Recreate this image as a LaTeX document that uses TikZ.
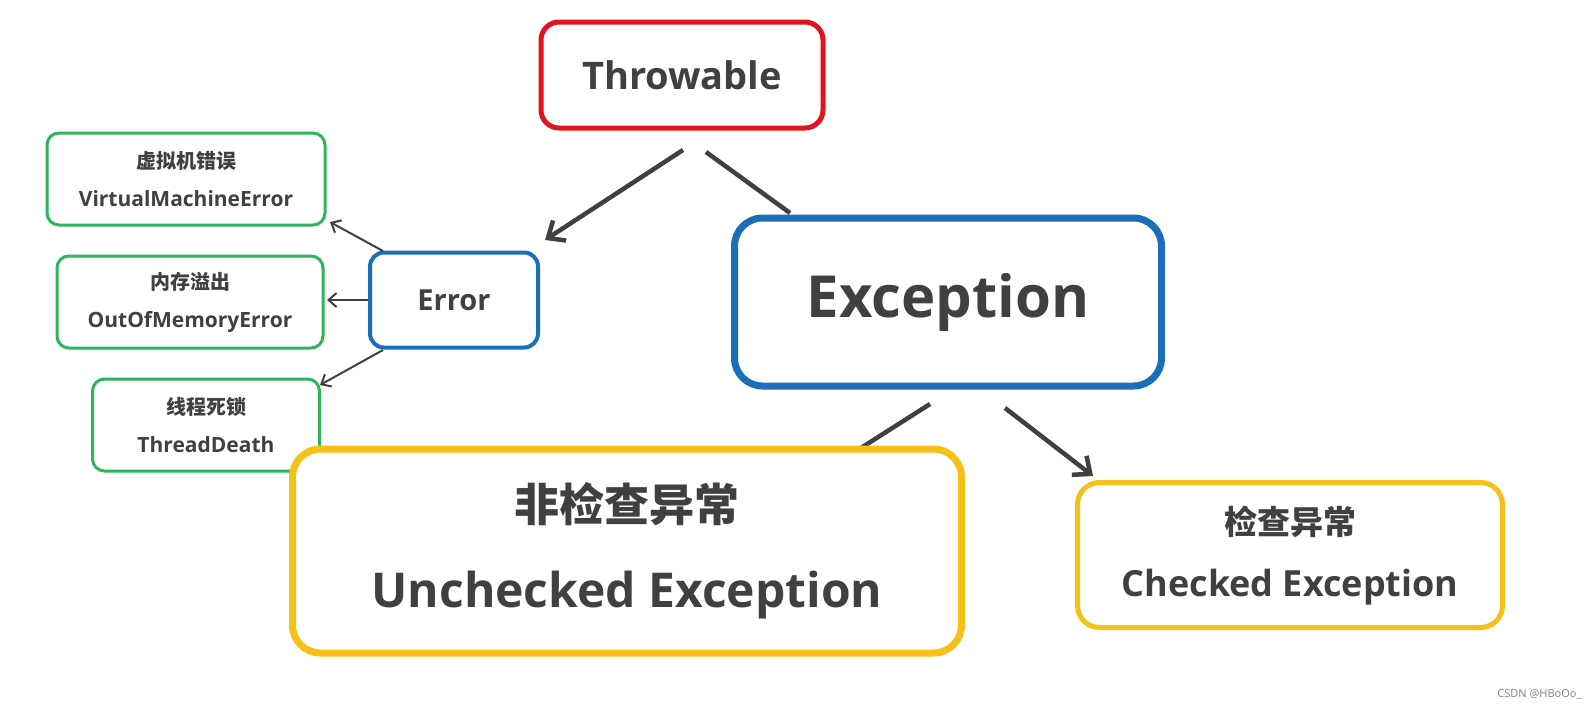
\documentclass[tikz,border=0pt]{standalone}
\usepackage{fontspec}
\setmainfont{Open Sans}
\newfontfamily\cjk{Noto Sans CJK SC}
\usetikzlibrary{arrows.meta}
\definecolor{txt}{HTML}{404040}
\definecolor{red1}{HTML}{E0141E}
\definecolor{blue1}{HTML}{1A6FB8}
\definecolor{green1}{HTML}{2DB55D}
\definecolor{yel}{HTML}{F5C018}
\begin{document}
\begin{tikzpicture}[x=1pt,y=-1pt,
 box/.style={draw,rounded corners=#1,align=center,text=txt,font=\bfseries,inner sep=0pt},
 arr/.style={draw=txt,line width=4.5pt,-{Straight Barb[length=14pt,width=24pt]}},
 sarr/.style={draw=txt,line width=2pt,-{Straight Barb[length=8pt,width=14pt]}},
 small/.style={box=12pt,draw=green1,line width=3pt,minimum height=92pt,font=\bfseries\fontsize{21}{38}\selectfont}]
\useasboundingbox[fill=white] (0,0) rectangle (1594,721);
\node[box=18pt,draw=red1,line width=5pt,minimum width=282pt,minimum height=106pt,font=\bfseries\fontsize{38}{40}\selectfont] (thr) at (682,75) {Throwable};
\node[small,minimum width=278pt] (vm) at (186,179) {{\cjk\bfseries\fontsize{20}{22}\selectfont 虚拟机错误}\\VirtualMachineError};
\node[small,minimum width=266pt] (oom) at (190,302) {{\cjk\bfseries\fontsize{20}{22}\selectfont 内存溢出}\\OutOfMemoryError};
\node[small,minimum width=227pt] (td) at (206,425) {{\cjk\bfseries\fontsize{20}{22}\selectfont 线程死锁}\\ThreadDeath};
\node[box=14pt,draw=blue1,line width=4pt,minimum width=168pt,minimum height=95pt,font=\bfseries\fontsize{29}{32}\selectfont] (err) at (454,300) {Error};
\node[box=28pt,draw=blue1,line width=7pt,minimum width=427pt,minimum height=168pt,font=\bfseries\fontsize{58}{62}\selectfont] (exc) at (948,302) {Exception};
\node[box=22pt,draw=yel,line width=5pt,minimum width=425pt,minimum height=145pt,font=\bfseries\fontsize{36}{62}\selectfont] (chk) at (1290,555) {{\cjk\bfseries\fontsize{33}{35}\selectfont 检查异常}\\Checked Exception};
\node[text=gray,font=\fontsize{11}{12}\selectfont,anchor=east] (wm) at (1585,694) {CSDN @HBoOo\_};
\coordinate (p1) at (683,150); \coordinate (q1) at (545,240);
\coordinate (p2) at (706,152); \coordinate (q2) at (790,213);
\coordinate (p3) at (930,404); \coordinate (q3) at (850,455);
\coordinate (p4) at (1005,408); \coordinate (q4) at (1093,476);
\coordinate (p5) at (383,251); \coordinate (q5) at (330,222);
\coordinate (p6) at (368,300); \coordinate (q6) at (327,300);
\coordinate (p7) at (383,350); \coordinate (q7) at (320,385);
\draw[arr] (p1) -- (q1);
\draw[draw=txt,line width=4.5pt] (p2) -- (q2);
\draw[draw=txt,line width=4.5pt] (p3) -- (q3);
\draw[arr] (p4) -- (q4);
\draw[sarr] (p5) -- (q5);
\draw[sarr] (p6) -- (q6);
\draw[sarr] (p7) -- (q7);
\node[box=28pt,draw=yel,line width=7pt,minimum width=669pt,minimum height=204pt,font=\bfseries\fontsize{48}{86}\selectfont,fill=white] (unc) at (627,551) {{\cjk\bfseries\fontsize{45}{47}\selectfont 非检查异常}\\Unchecked Exception};
\end{tikzpicture}
\end{document}
